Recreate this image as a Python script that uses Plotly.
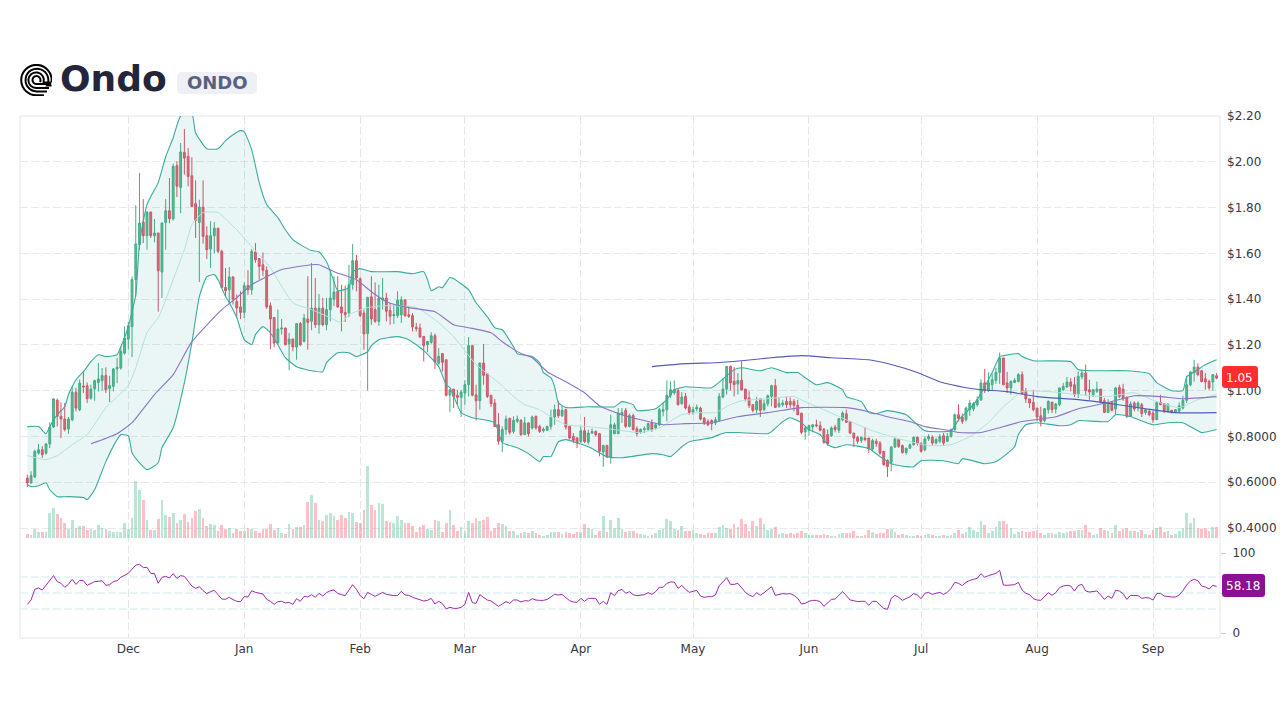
import base64
import pandas as pd
import plotly.graph_objects as go

dates = pd.date_range("2024-11-04", periods=319, freq="D")

opens = [.618,.597,.623,.727,.742,.727,.767,.841,.958,.888,.876,.833,.873,.993,.917,1.02,1.022,.967,1.008,1.036,
1.044,1.066,1.009,1.019,1.095,1.099,1.164,1.225,1.28,1.485,1.638,1.737,1.677,1.78,1.677,1.689,1.518,1.735,1.786,1.751,
1.983,1.888,2.041,2.024,1.939,1.817,1.735,1.802,1.677,1.619,1.677,1.71,1.609,1.451,1.441,1.497,1.39,1.366,1.342,1.459,
1.441,1.606,1.577,1.55,1.526,1.371,1.32,1.208,1.269,1.274,1.205,1.226,1.191,1.293,1.215,1.313,1.303,1.361,1.288,1.361,
1.288,1.354,1.4,1.434,1.366,1.342,1.34,1.463,1.568,1.489,1.339,1.249,1.41,1.354,1.303,1.397,1.405,1.35,1.328,1.328,
1.332,1.397,1.332,1.328,1.277,1.274,1.237,1.201,1.211,1.24,1.12,1.162,1.135,.981,1.007,.98,.971,.99,1.026,1.197,
.982,.956,1.121,1.074,.98,.946,.851,.779,.83,.88,.822,.866,.87,.808,.859,.837,.888,.844,.825,.827,
.844,.885,.917,.891,.917,.844,.8,.793,.778,.825,.775,.815,.822,.812,.732,.76,.71,.812,.812,.895,
.914,.844,.891,.834,.818,.83,.83,.859,.837,.851,.91,.917,.98,.99,1.0,.943,.975,.929,.905,.92,
.924,.88,.866,.87,.859,.87,.972,1.007,1.106,1.041,1.029,1.045,1.007,.968,.939,.917,.964,.917,.943,.975,
1.022,.932,.939,.953,.953,.953,.936,.902,.82,.827,.841,.851,.847,.832,.808,.803,.841,.827,.873,.899,
.866,.815,.796,.782,.793,.793,.745,.779,.771,.735,.696,.687,.754,.786,.76,.73,.749,.764,.796,.769,
.742,.789,.797,.771,.779,.803,.779,.8,.83,.895,.885,.873,.917,.92,.939,.96,1.034,1.0,1.026,1.045,
1.08,1.143,1.034,1.012,1.036,1.04,1.07,.997,.964,.949,.924,.89,.869,.917,.95,.92,.939,1.004,1.016,1.038,
1.026,.983,1.06,1.077,1.004,.982,.997,1.007,.956,.905,.949,.92,1.014,1.007,.972,.888,.946,.924,.939,.905,
.91,.902,.873,.949,.943,.91,.914,.905,.91,.924,.958,1.026,1.077,1.103,1.087,1.052,1.041,1.038,1.065]

closes = [.597,.629,.735,.742,.72,.767,.841,.964,.888,.876,.83,.876,.993,.924,1.033,1.016,.965,1.007,1.044,1.051,
1.066,1.004,1.022,1.095,1.102,1.172,1.23,1.284,1.485,1.641,1.732,1.677,1.78,1.677,1.689,1.524,1.732,1.786,1.751,1.98,
1.893,2.043,2.016,1.936,1.805,1.744,1.802,1.674,1.616,1.677,1.71,1.609,1.451,1.437,1.497,1.4,1.361,1.342,1.459,1.441,
1.609,1.572,1.543,1.526,1.366,1.313,1.208,1.269,1.274,1.201,1.226,1.191,1.293,1.201,1.317,1.298,1.361,1.288,1.361,1.288,
1.354,1.405,1.431,1.366,1.34,1.332,1.463,1.568,1.492,1.328,1.248,1.408,1.313,1.303,1.405,1.405,1.347,1.325,1.332,1.395,
1.397,1.328,1.325,1.278,1.271,1.235,1.197,1.215,1.24,1.125,1.15,1.124,.98,1.004,.975,.971,.994,1.026,1.197,.98,
.956,1.121,1.067,.975,.943,.844,.779,.83,.876,.818,.87,.876,.808,.859,.812,.885,.837,.822,.832,.844,
.885,.917,.891,.914,.841,.793,.783,.771,.825,.778,.815,.822,.808,.735,.76,.71,.851,.851,.902,.905,
.844,.891,.83,.812,.83,.834,.856,.83,.851,.917,.917,.98,1.004,1.004,.939,.972,.924,.905,.917,.927,
.876,.859,.851,.856,.873,.975,1.007,1.106,1.034,1.026,1.044,1.004,.964,.936,.914,.953,.914,.943,.978,1.022,
.927,.943,.946,.939,.939,.936,.895,.818,.837,.847,.851,.847,.827,.774,.768,.837,.83,.878,.902,.862,
.815,.793,.779,.796,.786,.745,.782,.769,.727,.677,.669,.754,.789,.757,.73,.749,.764,.796,.769,.735,
.789,.8,.771,.786,.8,.771,.8,.83,.895,.878,.866,.924,.946,.943,.96,1.034,1.0,1.034,1.048,1.08,
1.143,1.026,1.012,1.04,1.045,1.07,.987,.964,.946,.917,.885,.866,.921,.953,.917,.942,1.012,1.019,1.038,1.019,
.983,1.063,1.077,1.0,.994,1.004,1.007,.953,.905,.946,.914,1.012,.975,.964,.888,.942,.92,.946,.9,.917,
.895,.873,.949,.939,.91,.939,.907,.917,.934,.958,1.026,1.082,1.103,1.07,1.04,1.038,1.012,1.07,1.055]

highs = [.633,.648,.742,.767,.757,.771,.862,.968,.965,.949,.946,.885,1.019,1.012,1.048,1.085,1.036,1.026,1.048,1.121,
1.099,1.102,1.065,1.099,1.143,1.194,1.281,1.3,1.499,1.81,1.951,1.837,1.783,1.783,1.75,1.689,1.735,1.837,1.929,1.992,
2.002,2.082,2.143,2.06,2.02,1.919,1.834,1.919,1.718,1.74,1.737,1.71,1.616,1.536,1.54,1.5,1.42,1.434,1.473,1.526,
1.619,1.645,1.58,1.604,1.543,1.386,1.32,1.354,1.313,1.274,1.252,1.226,1.293,1.3,1.336,1.5,1.558,1.492,1.422,1.405,
1.405,1.529,1.5,1.5,1.463,1.459,1.55,1.641,1.594,1.495,1.354,1.408,1.5,1.473,1.463,1.492,1.427,1.383,1.376,1.434,
1.412,1.397,1.371,1.339,1.296,1.293,1.237,1.215,1.255,1.25,1.186,1.165,1.135,1.007,1.007,1.004,1.004,1.045,1.234,1.197,
1.026,1.121,1.204,1.074,.98,.964,.902,.844,.891,.88,.888,.891,.876,.885,.862,.891,.891,.851,.84,.847,
.917,.939,.956,.934,.92,.847,.815,.797,.844,.885,.83,.835,.827,.815,.764,.764,.895,.86,.924,.924,
.924,.9,.9,.844,.835,.845,.86,.875,.86,.925,.949,1.045,1.041,1.045,1.01,.994,.99,.94,.93,.94,
.93,.885,.875,.875,.885,.99,1.055,1.106,1.11,1.103,1.077,1.128,1.007,.997,.94,.972,.964,.96,.983,1.026,
1.051,.968,.96,.972,.97,.963,.96,.902,.844,.851,.851,.873,.866,.837,.83,.844,.851,.881,.91,.917,
.866,.815,.803,.8,.841,.793,.79,.79,.78,.735,.7,.757,.793,.789,.765,.749,.77,.8,.8,.775,
.8,.81,.805,.795,.81,.815,.815,.835,.9,.94,.9,.93,.96,.95,.975,1.05,1.095,1.08,1.075,1.1,
1.167,1.143,1.082,1.045,1.055,1.077,1.084,1.012,.964,1.004,.924,.93,.924,.958,.95,.946,1.012,1.034,1.06,1.055,
1.06,1.084,1.092,1.114,1.048,1.007,1.04,1.007,.968,.963,.953,1.016,1.026,1.03,.972,.953,.953,.953,.946,.924,
.92,.914,.953,.982,.946,.946,.917,.92,.949,.978,1.063,1.084,1.135,1.12,1.089,1.077,1.048,1.07,1.077]

lows = [.579,.594,.619,.72,.706,.72,.749,.837,.844,.793,.822,.811,.866,.91,.91,.99,.946,.961,.956,.997,
1.0,.99,.95,.997,1.033,1.092,1.157,1.18,1.147,1.412,1.616,1.645,1.616,1.667,1.648,1.345,1.405,1.616,1.732,1.743,
1.846,1.776,1.944,1.893,1.802,1.667,1.475,1.642,1.575,1.536,1.601,1.601,1.448,1.412,1.38,1.376,1.317,1.313,1.317,1.419,
1.419,1.558,1.485,1.5,1.357,1.182,1.19,1.205,1.245,1.197,1.089,1.172,1.135,1.194,1.211,1.179,1.264,1.274,1.249,1.281,
1.264,1.303,1.369,1.361,1.259,1.3,1.322,1.441,1.434,1.322,1.179,1.0,1.288,1.296,1.284,1.354,1.303,1.288,1.291,1.318,
1.296,1.322,1.318,1.259,1.259,1.23,1.128,1.168,1.205,1.095,1.113,1.084,.975,.907,.924,.939,.885,.939,.975,.975,
.87,.917,1.026,.968,.929,.844,.764,.732,.808,.808,.812,.859,.803,.808,.8,.83,.83,.815,.817,.824,
.83,.851,.881,.885,.83,.786,.771,.749,.771,.771,.764,.81,.8,.713,.667,.706,.681,.81,.81,.859,
.837,.84,.825,.8,.812,.815,.825,.82,.83,.845,.888,.866,.968,.982,.935,.939,.918,.895,.895,.91,
.87,.85,.845,.827,.85,.865,.968,.983,1.0,.975,.983,1.0,.953,.924,.905,.903,.885,.91,.932,.932,
.924,.925,.93,.924,.925,.91,.895,.81,.786,.803,.818,.84,.822,.768,.76,.798,.818,.815,.866,.859,
.81,.754,.768,.771,.779,.728,.735,.755,.72,.672,.623,.648,.75,.75,.725,.72,.745,.76,.76,.73,
.735,.78,.76,.765,.77,.76,.775,.795,.825,.865,.855,.865,.89,.91,.93,.955,.99,.995,1.0,1.03,
1.03,1.023,.99,.983,1.033,1.036,.983,.946,.924,.91,.866,.844,.862,.9,.902,.9,.932,1.0,1.012,.997,
.972,.968,1.05,.978,.96,.972,.99,.946,.902,.902,.91,.895,.968,.955,.88,.885,.91,.91,.885,.895,
.888,.859,.873,.936,.902,.905,.9,.902,.905,.917,.946,1.019,1.04,1.063,1.036,1.004,1.004,1.0,1.05]

volumes = [13,10,28,19,19,19,75,90,72,60,45,28,55,30,37,37,25,28,25,40,
30,28,22,19,19,19,45,28,60,172,145,115,55,25,25,58,115,70,63,75,
45,55,73,48,60,82,88,60,37,43,39,22,39,28,30,17,28,23,23,30,
28,22,17,28,28,43,25,30,15,13,43,28,33,33,40,108,130,105,55,52,
70,75,67,55,70,61,78,75,49,47,85,216,100,85,105,103,52,49,45,67,
55,45,45,37,19,33,40,28,25,55,52,19,45,85,40,22,33,22,52,45,
60,52,55,63,22,30,45,43,37,22,22,10,15,19,15,22,15,10,7,10,
19,19,19,13,19,15,13,19,19,43,30,28,10,22,67,19,55,30,60,28,
19,22,22,15,12,9,7,10,15,25,28,58,52,28,25,37,22,22,25,15,
12,10,16,16,16,34,40,31,28,43,34,58,43,22,52,37,61,43,25,28,
34,13,16,13,16,13,16,22,16,10,10,10,10,13,10,7,7,13,16,16,
16,22,7,7,10,25,19,13,16,16,28,28,19,10,13,10,7,7,10,7,
10,12,10,7,7,9,7,10,16,25,13,19,34,25,19,52,40,16,22,34,
52,52,43,31,13,19,22,19,19,22,25,16,10,16,16,13,19,16,19,22,
22,25,25,40,19,10,13,31,25,22,16,40,22,28,31,22,22,19,25,13,
10,25,31,34,19,22,10,13,22,31,76,46,61,31,28,31,22,34,34]

rsi = [35.8,41.25,54.6,56.25,53.75,60,65.4,71.7,64.2,62.1,57.1,60.8,67.1,60.8,65.8,65.4,59.6,62.1,64.2,64.6,
65.4,59.6,60.4,64.2,65.4,69.6,72.5,74.6,79.6,85,85.8,81.7,82.1,74.6,74.2,62.1,69.6,70.8,68.75,74.2,
68.3,71.7,70.8,65.4,58.75,55.8,57.9,52.9,49.2,51.7,53.3,47.9,42.5,42.1,44.6,41.7,39.6,39.2,45.4,45,
52.9,50.8,50,48.75,42.1,39.6,35.8,39.2,39.6,37.5,38.3,35.8,42.9,39.6,45.8,45,47.9,44.6,49.6,
46.25,50.4,52.9,53.75,49.6,47.9,46.7,53.75,60.4,54.6,46.7,42.9,50.8,48.3,45.8,48.3,50.8,48.3,47.1,46.7,46.7,
52.1,47.5,47.1,44.6,43.3,41.7,40,40.8,43.3,36.25,39.6,36.7,30,32.1,30.8,30.8,32.1,35.8,50.8,37.9,
37.1,47.9,45,41.25,40,37.1,33.3,36.25,39.2,37.1,41.25,41.25,38.75,40.4,40,42.9,41.25,40.8,40.8,42,
45.4,48.3,47.5,48.3,44.2,40.4,38.75,38.3,43.3,39.6,43.3,43.3,43.3,35.8,39.6,35.8,50.4,46.7,52.9,54.6,
49.6,51.7,47.9,46.7,47.5,47.9,50.4,48.3,51.7,57.1,
57.1,62,63.75,63.75,55.8,59.6,54.6,50.8,52.1,53.3,46.25,44.6,45.4,45.4,47.5,59.2,63.75,69.2,60.8,60.8,
62,56.7,50.8,47.5,45.4,50.4,47.1,50.4,53.75,57.9,47.1,47.9,49.2,48.75,49.2,47.1,43.3,36.25,37.1,39.6,
40.8,40.8,39.2,33.3,37.9,42,42.5,47.5,51.7,46.7,41.25,40.4,39.2,39.6,39.6,34.6,39.6,39.6,35.8,30.8,
29.6,43.3,47.1,44.6,40.8,43.3,45.4,49.2,47.5,42.9,49.6,50.8,48.3,49.6,50.8,48.3,50.8,55.8,63.3,62,
59.2,63.3,65.8,67.1,68.3,74.2,69.6,71.7,
73.3,74.6,78.3,60,59.6,60,60.4,63.3,53.75,49.6,47.9,42.9,41.25,40.8,46.25,50.4,47.1,50.4,56.7,58.75,
59.6,58.75,52.5,59.2,60.8,52.5,51.25,52.1,52.5,47.5,42,46.25,43.3,53.3,52.5,49.2,42,47.1,46.7,46.7,
43.3,44.2,43.75,41.25,49.2,49.6,46.25,45.4,45,45,47.5,52.9,60,65,67.1,65.4,58.75,57.5,55,59.6,58.18]

upper_days = [0,3,5,6,8,10,11,13,15,17,19,21,24,25,26,27,29,30,32,34,35,37,39,41,44,45,48,51,53,55,57,58,60,62,64,67,69,71,73,76,78,80,82,83,86,87,89,92,99,103,106,107,108,110,111,113,114,118,120,123,125,127,130,131,135,137,138,140,141,142,144,150,157,159,162,163,168,171,173,176,183,189,191,196,199,203,206,208,211,214,218,219,223,225,227,230,235,238,240,247,249,251,254,257,258,260,261,265,266,269,279,281,285,294,300,302,306,309,310,313,315,318]
upper = [.843,.843,.812,.843,.895,.93,.983,1.048,1.083,1.127,1.157,1.149,1.157,1.192,1.232,1.28,1.419,1.647,1.813,1.878,1.909,2.022,2.105,2.2,2.21,2.127,2.057,2.057,2.092,2.118,2.136,2.131,2.053,1.909,1.813,1.756,1.703,1.66,1.638,1.612,1.607,1.564,1.476,1.437,1.45,1.52,1.533,1.52,1.52,1.511,1.52,1.485,1.437,1.454,1.45,1.494,1.489,1.441,1.384,1.323,1.275,1.266,1.192,1.162,1.149,1.122,1.079,1.057,1.017,.948,.926,.93,.93,.952,.939,.913,.921,.961,1.004,1.017,1.013,1.092,1.1,1.087,1.1,1.079,1.079,1.057,1.026,1.035,1.004,.974,.952,.904,.9,.913,.895,.851,.825,.825,.873,.904,.961,1.048,1.079,1.149,1.153,1.162,1.149,1.131,1.127,1.092,1.087,1.087,1.074,1.035,1.0,1.0,1.061,1.092,1.114,1.135]

middle_days = [0,5,8,12,16,21,27,29,32,35,36,39,42,44,47,51,54,56,60,65,71,76,81,84,86,91,96,104,110,114,120,126,131,133,137,140,144,150,157,164,169,175,179,184,188,191,198,205,208,213,219,226,233,241,247,252,257,260,266,273,281,289,296,302,308,313,318]
middle = [.716,.699,.716,.764,.808,.926,1.022,1.1,1.253,1.319,1.354,1.485,1.616,1.725,1.778,1.778,1.734,1.703,1.629,1.537,1.384,1.354,1.319,1.297,1.332,1.363,1.371,1.363,1.297,1.236,1.114,1.035,.961,.939,.917,.886,.851,.843,.83,.817,.838,.895,.904,.904,.939,.956,.965,.974,.952,.917,.873,.825,.79,.76,.764,.799,.86,.913,.996,.996,.983,.974,.991,.952,.926,.961,.983]

lower_days = [0,1,3,5,6,8,11,15,16,18,21,24,25,27,28,30,32,35,36,39,42,44,46,48,50,51,53,54,56,58,60,61,63,65,67,69,72,76,79,80,83,86,88,91,92,94,99,102,106,110,112,113,116,119,125,127,131,134,137,138,140,142,144,150,155,159,167,170,172,175,177,180,183,185,187,190,198,199,202,204,207,209,212,214,216,219,225,228,231,235,237,239,245,249,250,256,259,261,264,265,267,270,276,279,281,289,291,295,301,305,309,314,318]
lower = [.589,.581,.585,.598,.567,.537,.537,.533,.524,.567,.69,.786,.808,.803,.729,.685,.655,.685,.751,.838,1.035,1.21,1.411,1.498,1.507,1.485,1.411,1.384,1.319,1.223,1.201,1.245,1.28,1.253,1.201,1.144,1.105,1.087,1.083,1.122,1.166,1.166,1.149,1.17,1.197,1.223,1.236,1.223,1.175,1.105,1.026,1.013,.904,.882,.86,.773,.751,.725,.69,.712,.712,.777,.786,.755,.712,.707,.725,.72,.712,.755,.777,.786,.795,.808,.817,.817,.812,.821,.865,.882,.86,.83,.808,.764,.751,.764,.747,.712,.681,.668,.668,.694,.694,.681,.703,.681,.69,.712,.755,.808,.851,.86,.847,.851,.869,.865,.895,.886,.851,.86,.86,.817,.83]

ma50_days = [17,24,28,34,39,44,52,56,60,64,68,76,78,82,88,92,96,102,109,114,118,124,127,132,135,139,144,149,153,159,164,170,176,183,190,198,207,219,225,230,236,240,247,249,255,259,266,275,281,289,296,303,309,318]
ma50 = [.768,.812,.86,.983,1.07,1.214,1.354,1.406,1.463,1.498,1.529,1.55,1.55,1.52,1.485,1.432,1.389,1.363,1.345,1.288,1.275,1.253,1.214,1.162,1.144,1.083,1.039,.991,.934,.895,.873,.851,.856,.86,.886,.904,.926,.926,.908,.886,.865,.843,.825,.817,.817,.834,.865,.886,.921,.948,.978,.974,.965,.974]

ma200_days = [167,176,184,191,199,207,215,225,231,238,244,251,255,262,270,281,290,299,307,318]
ma200 = [1.105,1.118,1.122,1.131,1.144,1.153,1.144,1.135,1.114,1.079,1.039,1.013,1.004,.996,.974,.961,.943,.921,.904,.904]

price_ticks = [2.2,2.0,1.8,1.6,1.4,1.2,1.0,.8,.6,.4]
price_labels = ["$2.20","$2.00","$1.80","$1.60","$1.40","$1.20","$1.00","$0.8000","$0.6000","$0.4000"]
month_ticks = ["2024-12-01","2025-01-01","2025-02-01","2025-03-01","2025-04-01","2025-05-01","2025-06-01","2025-07-01","2025-08-01","2025-09-01"]
month_labels = ["Dec","Jan","Feb","Mar","Apr","May","Jun","Jul","Aug","Sep"]
rsi_guides = [30,50,70]
last_price = "1.05"
last_rsi = "58.18"

GREEN_LINE, GREEN_FILL = "#47ab80", "#5cbb94"
RED_LINE, RED_FILL = "#e04f62", "#e4697a"
TEAL = "#38ac9f"
FONT = "DejaVu Sans"
GRID_DASH = "8px,3px"

L, T, W, H = 20, 116, 1200, 522
PANE = 545
split = (T + H - PANE) / H
def px(x): return (x - L) / W
def py(y): return (T + H - y) / H

def rrect(x0, y0, x1, y1, r):
    rx, ry = r / W, r / H
    a, b, c, d = px(x0), px(x1), py(y0), py(y1)
    return (f"M{a+rx},{c} L{b-rx},{c} Q{b},{c} {b},{c-ry} L{b},{d+ry} Q{b},{d} {b-rx},{d} "
            f"L{a+rx},{d} Q{a},{d} {a},{d+ry} L{a},{c-ry} Q{a},{c} {a+rx},{c} Z")

logo = """<svg xmlns="http://www.w3.org/2000/svg" viewBox="0 0 32 32" width="128" height="128">
<g fill="none" stroke="#000" stroke-width="2">
<path d="M31.5 18 A15.2 15.2 0 1 0 18 31.2 L24 31.2"/>
<path d="M31.5 21.5 L27 21.5 A11.4 11.4 0 1 0 16.5 27.5 L27 27.5"/>
<path d="M31.5 18.5 L23.6 18.5 A7.8 7.8 0 1 0 16.5 24 L29 24"/>
<path d="M20 18 A4 4 0 1 0 16 20 L31 20"/>
</g></svg>"""
logo_uri = "data:image/svg+xml;base64," + base64.b64encode(logo.encode()).decode()

fig = go.Figure()

vol_colors = ["rgba(76,187,141,0.38)" if c >= o else "rgba(250,118,134,0.46)" for o, c in zip(opens, closes)]
fig.add_trace(go.Bar(x=dates, y=volumes, marker=dict(color=vol_colors, line_width=0),
                     width=0.72 * 86400000, xaxis="x", yaxis="y", showlegend=False))

fig.add_trace(go.Scatter(x=dates[upper_days], y=upper, mode="lines", yaxis="y2",
                         line=dict(color=TEAL, width=1.1, shape="spline", smoothing=0.5), showlegend=False))
fig.add_trace(go.Scatter(x=dates[lower_days], y=lower, mode="lines", yaxis="y2", fill="tonexty",
                         fillcolor="rgba(38,166,154,0.10)",
                         line=dict(color=TEAL, width=1.1, shape="spline", smoothing=0.5), showlegend=False))
fig.add_trace(go.Scatter(x=dates[middle_days], y=middle, mode="lines", yaxis="y2",
                         line=dict(color="#b2e2da", width=1, shape="spline", smoothing=0.5), showlegend=False))
fig.add_trace(go.Scatter(x=dates[ma50_days], y=ma50, mode="lines", yaxis="y2",
                         line=dict(color="#8a76c4", width=1.1, shape="spline", smoothing=0.5), showlegend=False))
fig.add_trace(go.Scatter(x=dates[ma200_days], y=ma200, mode="lines", yaxis="y2",
                         line=dict(color="#525cb8", width=1.1, shape="spline", smoothing=0.5), showlegend=False))
fig.add_trace(go.Candlestick(x=dates, open=opens, high=highs, low=lows, close=closes, yaxis="y2",
                             increasing=dict(line=dict(color=GREEN_LINE, width=1), fillcolor=GREEN_FILL),
                             decreasing=dict(line=dict(color=RED_LINE, width=1), fillcolor=RED_FILL),
                             whiskerwidth=0, showlegend=False))
fig.add_trace(go.Scatter(x=dates, y=rsi, mode="lines", xaxis="x2", yaxis="y3",
                         line=dict(color="#9c2ba8", width=1), showlegend=False))

shapes = [dict(type="rect", xref="paper", yref="paper", x0=0, x1=1, y0=0, y1=1,
               line=dict(color="#e6e6e6", width=1), layer="below")]
for g in rsi_guides:
    shapes.append(dict(type="line", xref="paper", yref="y3", x0=0, x1=1, y0=g, y1=g,
                       line=dict(color="#cfe9f0", width=1, dash=GRID_DASH), layer="below"))
shapes += [
    dict(type="path", xref="paper", yref="paper", path=rrect(177, 72, 257, 94, 5),
         fillcolor="#eef0f5", line=dict(width=0)),
    dict(type="path", xref="paper", yref="paper", path=rrect(1222, 366, 1258, 388, 3),
         fillcolor="#ff2e2e", line=dict(width=0), layer="above"),
    dict(type="path", xref="paper", yref="paper", path=rrect(1222, 574, 1265, 597, 3),
         fillcolor="#8b1093", line=dict(width=0), layer="above"),
]

def note(text, x, y, size, color, bold=False, anchor="left"):
    return dict(xref="paper", yref="paper", x=px(x), y=py(y), text=f"<b>{text}</b>" if bold else text,
                showarrow=False, xanchor=anchor, yanchor="middle",
                font=dict(family=FONT, size=size, color=color))

annotations = [
    note("Ondo", 57.5, 78, 36, "#23253a", True),
    note("ONDO", 217, 83, 18, "#57627f", True, "center"),
    note(last_price, 1239, 377.5, 12, "#ffffff", False, "center"),
    note(last_rsi, 1243, 586, 12, "#ffffff", False, "center"),
]

xcommon = dict(type="date", range=["2024-11-02 01:00", "2025-09-18 22:00"], showgrid=True,
               gridcolor="#e6e6e6", griddash=GRID_DASH, gridwidth=1, zeroline=False, showline=False,
               tickvals=month_ticks, ticktext=month_labels, rangeslider=dict(visible=False), automargin=False)
fig.update_layout(
    width=1280, height=720, autosize=False, paper_bgcolor="#ffffff", plot_bgcolor="#ffffff",
    margin=dict(l=L, r=1280 - L - W, t=T, b=720 - T - H, pad=0, autoexpand=False),
    font=dict(family=FONT, size=12, color="#333a44"),
    showlegend=False, hovermode=False, bargap=0, shapes=shapes, annotations=annotations,
    xaxis=dict(**xcommon, anchor="y", domain=[0, 1], showticklabels=False, ticks=""),
    xaxis2=dict(**xcommon, anchor="y3", domain=[0, 1], matches="x", showticklabels=True, ticks="",
                ticklabelstandoff=2, tickfont=dict(size=12, color="#333a44")),
    yaxis=dict(domain=[split, 1], range=[-20, 1267], visible=False, fixedrange=True),
    yaxis2=dict(domain=[split, 1], overlaying="y", side="right", anchor="x", range=[0.3258, 2.2],
                tickvals=price_ticks, ticktext=price_labels, showgrid=True, gridcolor="#e9e9e9",
                griddash=GRID_DASH, gridwidth=1, zeroline=False, showline=False, ticks="", automargin=False,
                ticklabelstandoff=6, tickfont=dict(size=12, color="#333a44")),
    yaxis3=dict(domain=[0, split], side="right", anchor="x2", range=[-6.25, 110], tickvals=[0, 50, 100],
                showgrid=False, zeroline=False, showline=False, ticks="outside", ticklen=5, automargin=False,
                tickcolor="#cccccc", ticklabelstandoff=4, tickfont=dict(size=12, color="#333a44")),
    images=[dict(source=logo_uri, xref="paper", yref="paper", x=px(20), y=py(64), sizex=32 / W, sizey=32 / H,
                 xanchor="left", yanchor="top", sizing="stretch", layer="above")],
)

fig.write_html("out.html", config={"displayModeBar": False},
               post_script="document.body.style.margin='0';document.body.style.overflow='hidden';")
